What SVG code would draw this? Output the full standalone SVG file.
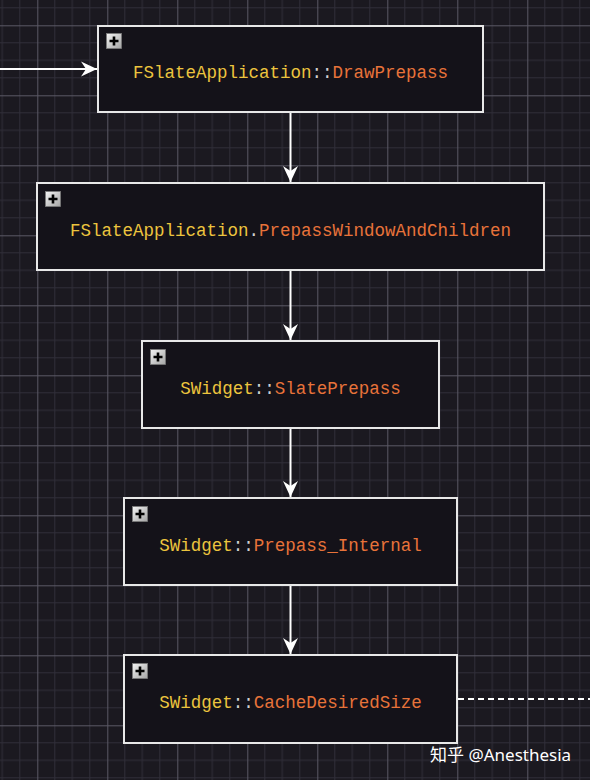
<svg xmlns="http://www.w3.org/2000/svg" width="590" height="780" viewBox="0 0 590 780">
<defs>
<pattern id="grid" patternUnits="userSpaceOnUse" x="37.3" y="25.3" width="70" height="70">
<rect width="70" height="70" fill="#1b1920"/>
<path d="M17.5 0V70M35 0V70M52.5 0V70M0 17.5H70M0 35H70M0 52.5H70" stroke="#302e39" stroke-width="1" fill="none"/>
<path d="M0.5 0V70M0 0.5H70" stroke="#5a5864" stroke-width="1" fill="none"/>
</pattern>
<linearGradient id="ig" x1="0" y1="0" x2="1" y2="1">
<stop offset="0" stop-color="#f4f4f4"/>
<stop offset="1" stop-color="#a4a4a4"/>
</linearGradient>
<marker id="ah" viewBox="-16 -8 17 16" refX="0" refY="0" markerWidth="17" markerHeight="16" markerUnits="userSpaceOnUse" orient="auto">
<path d="M0 0L-16 -7.5L-11 0L-16 7.5Z" fill="#ffffff"/>
</marker>
<g id="plus">
<rect x="0" y="0" width="15" height="15" fill="url(#ig)" stroke="#7a7a7a" stroke-width="0.8"/>
<path d="M3 7.5H12M7.5 3V12" stroke="#000" stroke-width="2.6"/>
</g>
</defs>
<style>
.box{fill:#141219;stroke:#e8e8e8;stroke-width:2}
.t{font-family:"Liberation Mono","DejaVu Sans Mono",monospace;font-size:17.5px;text-anchor:middle}
.y{fill:#ecc43e}
.s{fill:#cfcfcf}
.o{fill:#e8733a}
.c{stroke:#ffffff;stroke-width:2;fill:none}
.wm{font-family:"Noto Sans","Noto Sans CJK SC",sans-serif;font-size:17px;fill:#ffffff}
</style>
<rect width="590" height="780" fill="url(#grid)"/>

<g id="connectors">
<path class="c" d="M0 69H97" marker-end="url(#ah)"/>
<path class="c" d="M290.5 113V182" marker-end="url(#ah)"/>
<path class="c" d="M290.5 271V340" marker-end="url(#ah)"/>
<path class="c" d="M290.5 429V497" marker-end="url(#ah)"/>
<path class="c" d="M290.5 586V654" marker-end="url(#ah)"/>
<path class="c" d="M458 699H590" stroke-dasharray="6 4"/>
</g>

<g id="node1">
<rect class="box" x="98" y="26" width="385" height="86"/>
<use href="#plus" x="106.5" y="33.5"/>
<text class="t" x="290.5" y="78"><tspan class="y">FSlateApplication</tspan><tspan class="s">::</tspan><tspan class="o">DrawPrepass</tspan></text>
</g>

<g id="node2">
<rect class="box" x="37" y="183" width="507" height="87"/>
<use href="#plus" x="45.5" y="191.5"/>
<text class="t" x="290.5" y="235.5"><tspan class="y">FSlateApplication</tspan><tspan class="s">.</tspan><tspan class="o">PrepassWindowAndChildren</tspan></text>
</g>

<g id="node3">
<rect class="box" x="142" y="341" width="297" height="87"/>
<use href="#plus" x="150.5" y="349.5"/>
<text class="t" x="290.5" y="393.5"><tspan class="y">SWidget</tspan><tspan class="s">::</tspan><tspan class="o">SlatePrepass</tspan></text>
</g>

<g id="node4">
<rect class="box" x="124" y="498" width="333" height="87"/>
<use href="#plus" x="132.5" y="506.5"/>
<text class="t" x="290.5" y="550.5"><tspan class="y">SWidget</tspan><tspan class="s">::</tspan><tspan class="o">Prepass_Internal</tspan></text>
</g>

<g id="node5">
<rect class="box" x="124" y="655" width="333" height="88"/>
<use href="#plus" x="132.5" y="663.5"/>
<text class="t" x="290.5" y="708"><tspan class="y">SWidget</tspan><tspan class="s">::</tspan><tspan class="o">CacheDesiredSize</tspan></text>
</g>

<text class="wm" x="430" y="761">知乎 @Anesthesia</text>
</svg>
